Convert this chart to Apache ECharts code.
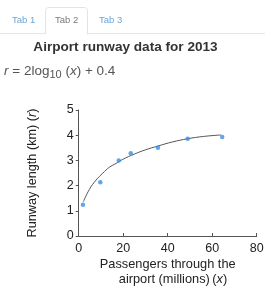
<!DOCTYPE html>
<html>
<head>
<meta charset="utf-8">
<script src="https://cdn.jsdelivr.net/npm/echarts@6/dist/echarts.min.js"></script>
<style>
  html, body { margin: 0; padding: 0; background: #fff; }
  #chart { width: 271px; height: 300px; }
</style>
</head>
<body>
<div id="chart"></div>
<script>
// observed airports (x = passengers in millions, r = runway length km)
const passengers = [1.9, 9.7, 18, 23.4, 35.6, 49, 64.5];
const runway = [1.24, 2.13, 3.0, 3.28, 3.5, 3.86, 3.93];

// fitted curve
const curveX = [2.1, 4.8, 7.8, 10.8, 13.8, 16.8, 19.8, 25, 30, 35.6, 42, 49, 56, 64];
const curveR = [1.36, 1.85, 2.22, 2.49, 2.73, 2.88, 3.04, 3.25, 3.42, 3.57, 3.73, 3.86, 3.95, 4.01];

const xTicks = [0, 20, 40, 60, 80];
const yTicks = [0, 1, 2, 3, 4, 5];
const tabs = ["Tab 1", "Tab 2", "Tab 3"];

const chart = echarts.init(document.getElementById("chart"));
const font = "Arial, 'Liberation Sans', sans-serif";

const option = {
  animation: false,
  textStyle: { fontFamily: font },
  grid: { left: 78.7, right: 14.3, top: 110, bottom: 64 },
  xAxis: {
    type: "value",
    min: xTicks[0],
    max: xTicks[xTicks.length - 1],
    interval: 20,
    splitLine: { show: false },
    axisLine: { lineStyle: { color: "#555", width: 1 } },
    axisTick: { show: true, length: 3, inside: true, lineStyle: { color: "#555" } },
    axisLabel: { color: "#222", fontSize: 12.5, margin: 6, fontFamily: font },
    name: "{n|Passengers through the}\n{n|   airport (millions)\u2009(}{i|x}{n|)}",
    nameLocation: "middle",
    nameGap: 21,
    nameTextStyle: {
      color: "#222", fontSize: 12.8, lineHeight: 15, verticalAlign: "top", fontFamily: font,
      rich: {
        n: { fontSize: 12.8, color: "#222", fontFamily: font, lineHeight: 15 },
        i: { fontSize: 12.8, color: "#222", fontStyle: "italic", fontFamily: font, lineHeight: 15 }
      }
    }
  },
  yAxis: {
    type: "value",
    min: yTicks[0],
    max: yTicks[yTicks.length - 1],
    interval: 1,
    splitLine: { show: false },
    axisLine: { show: true, lineStyle: { color: "#555", width: 1 } },
    axisTick: { show: true, length: 3, lineStyle: { color: "#555" } },
    axisLabel: { color: "#222", fontSize: 12.5, margin: 5, fontFamily: font },
    name: "{n|Runway length (km) (}{i|r}{n|)}",
    nameLocation: "middle",
    nameGap: 40,
    nameTextStyle: {
      color: "#222", fontSize: 12.7, fontFamily: font,
      rich: {
        n: { fontSize: 12.7, color: "#222", fontFamily: font },
        i: { fontSize: 12.7, color: "#222", fontStyle: "italic", fontFamily: font }
      }
    }
  },
  series: [
    {
      type: "line",
      data: curveX.map((x, i) => [x, curveR[i]]),
      smooth: 0.4,
      showSymbol: false,
      lineStyle: { color: "#555", width: 1 },
      z: 1
    },
    {
      type: "scatter",
      data: passengers.map((x, i) => [x, runway[i]]),
      symbolSize: 4.5,
      itemStyle: { color: "#3b8ee8" },
      z: 2
    }
  ],
  graphic: [
    { type: "line", shape: { x1: 0, y1: 33.5, x2: 265, y2: 33.5 }, style: { stroke: "#e6e6e6", lineWidth: 1 } },
    { type: "rect", shape: { x: 45.5, y: 7.5, width: 42, height: 26.5, r: [3, 3, 0, 0] },
      style: { fill: "#fff", stroke: "#e3e3e3", lineWidth: 1 } },
    { type: "rect", shape: { x: 46, y: 33, width: 41, height: 2 }, style: { fill: "#fff" } },
    { type: "text", left: 12, top: 15, style: { text: tabs[0], fill: "#6aa6d9", fontSize: 9.5, fontFamily: font } },
    { type: "text", left: 55, top: 15, style: { text: tabs[1], fill: "#7a7a7a", fontSize: 9.5, fontFamily: font } },
    { type: "text", left: 99, top: 15, style: { text: tabs[2], fill: "#6aa6d9", fontSize: 9.5, fontFamily: font } },
    {
      type: "text", x: 125.5, y: 47,
      style: {
        text: "Airport runway data for 2013",
        fill: "#333", fontSize: 13.6, fontWeight: "bold", fontFamily: font,
        align: "center", verticalAlign: "middle"
      }
    },
    {
      type: "text", left: 4, top: 64,
      style: {
        text: "{i|r} = 2log{s|10} ({i|x}) + 0.4",
        fill: "#555",
        fontSize: 13.5,
        fontFamily: font,
        rich: {
          i: { fontStyle: "italic", fontSize: 13.5, fill: "#555", fontFamily: font },
          s: { fontSize: 11, verticalAlign: "bottom", padding: [7, 0, 0, 0], fill: "#555", fontFamily: font }
        }
      }
    }
  ]
};

chart.setOption(option);
</script>
</body>
</html>
